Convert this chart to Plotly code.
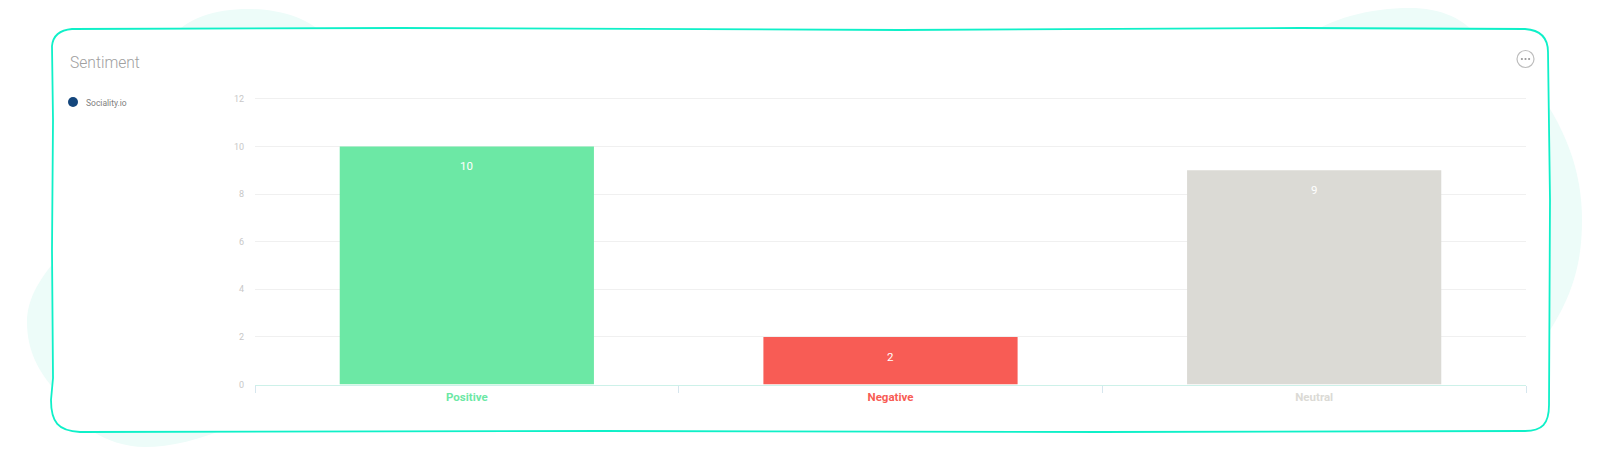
import plotly.graph_objects as go

W, H = 1600, 460

categories = ["Positive", "Negative", "Neutral"]
values = [10, 2, 9]
bar_colors = ["#6ce8a5", "#f85c55", "#dbdad5"]
label_colors = ["#6ce8a5", "#f85c55", "#dbdad5"]
y_ticks = [0, 2, 4, 6, 8, 10, 12]


# page pixels -> paper coords (margins are 0 so paper is the whole page)
def px(x, y):
    return f"{x / W:.5f},{1 - y / H:.5f}"


def path(start, *segs):
    out = "M" + px(*start)
    for s in segs:
        if len(s) == 2:
            out += " L" + px(*s)
        else:
            out += " C" + px(s[0], s[1]) + " " + px(s[2], s[3]) + " " + px(s[4], s[5])
    return out


BLOB = "#edfcf9"
EDGE = "#0ff0c8"

blob_top_left = path((170, 40), (185, 18, 215, 9, 248, 9), (280, 9, 310, 18, 330, 40), (170, 40))
blob_left = path((70, 245), (45, 270, 27, 295, 27, 322), (27, 352, 40, 375, 60, 395),
                 (70, 420, 105, 447, 145, 447), (170, 447, 200, 440, 235, 425), (70, 245))
blob_top_right = path((1300, 40), (1330, 18, 1370, 8, 1410, 8), (1440, 8, 1465, 18, 1480, 40), (1300, 40))
blob_right = path((1530, 80), (1565, 125, 1582, 170, 1582, 220), (1582, 265, 1572, 300, 1540, 345), (1530, 80))

card = path((52, 46), (53, 35, 60, 30, 72, 29), (400, 28), (900, 30), (1300, 28), (1525, 29),
            (1540, 30, 1548, 37, 1548, 52), (1550, 200), (1549, 405),
            (1549, 424, 1542, 431, 1525, 431), (1100, 432), (600, 431), (80, 432),
            (58, 431, 51, 422, 51, 400), (53, 378), (52, 250), (53, 120), (52, 46))

shapes = []
for p in [blob_top_left, blob_left, blob_top_right, blob_right]:
    shapes.append(dict(type="path", path=p, xref="paper", yref="paper", layer="below",
                       fillcolor=BLOB, line=dict(width=0)))
shapes.append(dict(type="path", path=card, xref="paper", yref="paper", layer="below",
                   fillcolor="#ffffff", line=dict(color=EDGE, width=1.8)))


def circle(cx, cy, r, fill, line_color=None, line_width=0):
    return dict(type="circle", xref="paper", yref="paper",
                x0=(cx - r) / W, x1=(cx + r) / W,
                y0=1 - (cy + r) / H, y1=1 - (cy - r) / H,
                fillcolor=fill, line=dict(color=line_color, width=line_width))


# legend dot
shapes.append(circle(73, 102, 5, "#14467c"))
# menu icon top right
shapes.append(circle(1525.5, 59, 8.5, "#ffffff", "#bdbdbd", 1.2))
for dx in [-3.6, 0, 3.6]:
    shapes.append(circle(1525.5 + dx, 59, 1.1, "#9a9a9a"))

fig = go.Figure(go.Bar(x=categories, y=values, width=0.6,
                       marker=dict(color=bar_colors, line=dict(width=0)),
                       showlegend=False, hoverinfo="x+y"))

annotations = [
    dict(text="Sentiment", x=67.5 / W, y=1 - 63 / H, xref="paper", yref="paper", xanchor="left",
         yanchor="middle", showarrow=False, font=dict(family="Roboto", size=15.6, color="#a0a0a0", weight=300)),
    dict(text="Sociality.io", x=84 / W, y=1 - 102.5 / H, xref="paper", yref="paper", xanchor="left",
         yanchor="middle", showarrow=False, font=dict(family="Roboto", size=8.5, color="#808080")),
]
for c, v in zip(categories, values):
    annotations.append(dict(text=str(v), x=c, y=v, xref="x", yref="y", yshift=-20, showarrow=False,
                            xanchor="center", yanchor="middle",
                            font=dict(family="Roboto", size=11.5, color="#ffffff")))

tick_text = [f'<span style="color:{col}"><b>{c}</b></span>' for c, col in zip(categories, label_colors)]

fig.update_layout(
    width=W, height=H,
    margin=dict(l=0, r=0, t=0, b=0),
    paper_bgcolor="#ffffff",
    plot_bgcolor="rgba(0,0,0,0)",
    font=dict(family="Roboto"),
    shapes=shapes,
    annotations=annotations,
    bargap=0.4,
    xaxis=dict(domain=[255 / W, 1526 / W], tickmode="array", tickvals=categories, ticktext=tick_text,
               tickson="boundaries", ticks="outside", ticklen=7, tickcolor="#d6e6ee", tickwidth=1,
               showline=True, linecolor="#cdf1e9", linewidth=1, showgrid=False, automargin=False,
               ticklabelstandoff=2,
               tickfont=dict(family="Roboto", size=11.5)),
    # range runs past 12 because plotly drops gridlines within 1px of the axis end
    yaxis=dict(domain=[(H - 384.5) / H, (H - 96.4) / H], range=[0, 12.1], tickvals=y_ticks,
               showgrid=True, gridcolor="#f0f0f0", gridwidth=1.2, zeroline=False, showline=False,
               ticks="", ticklabelstandoff=10, automargin=False,
               tickfont=dict(family="Roboto", size=9, color="#c8c8c8")),
)

fig.write_html("out.html", config=dict(displayModeBar=False),
               post_script="document.body.style.margin='0';")
